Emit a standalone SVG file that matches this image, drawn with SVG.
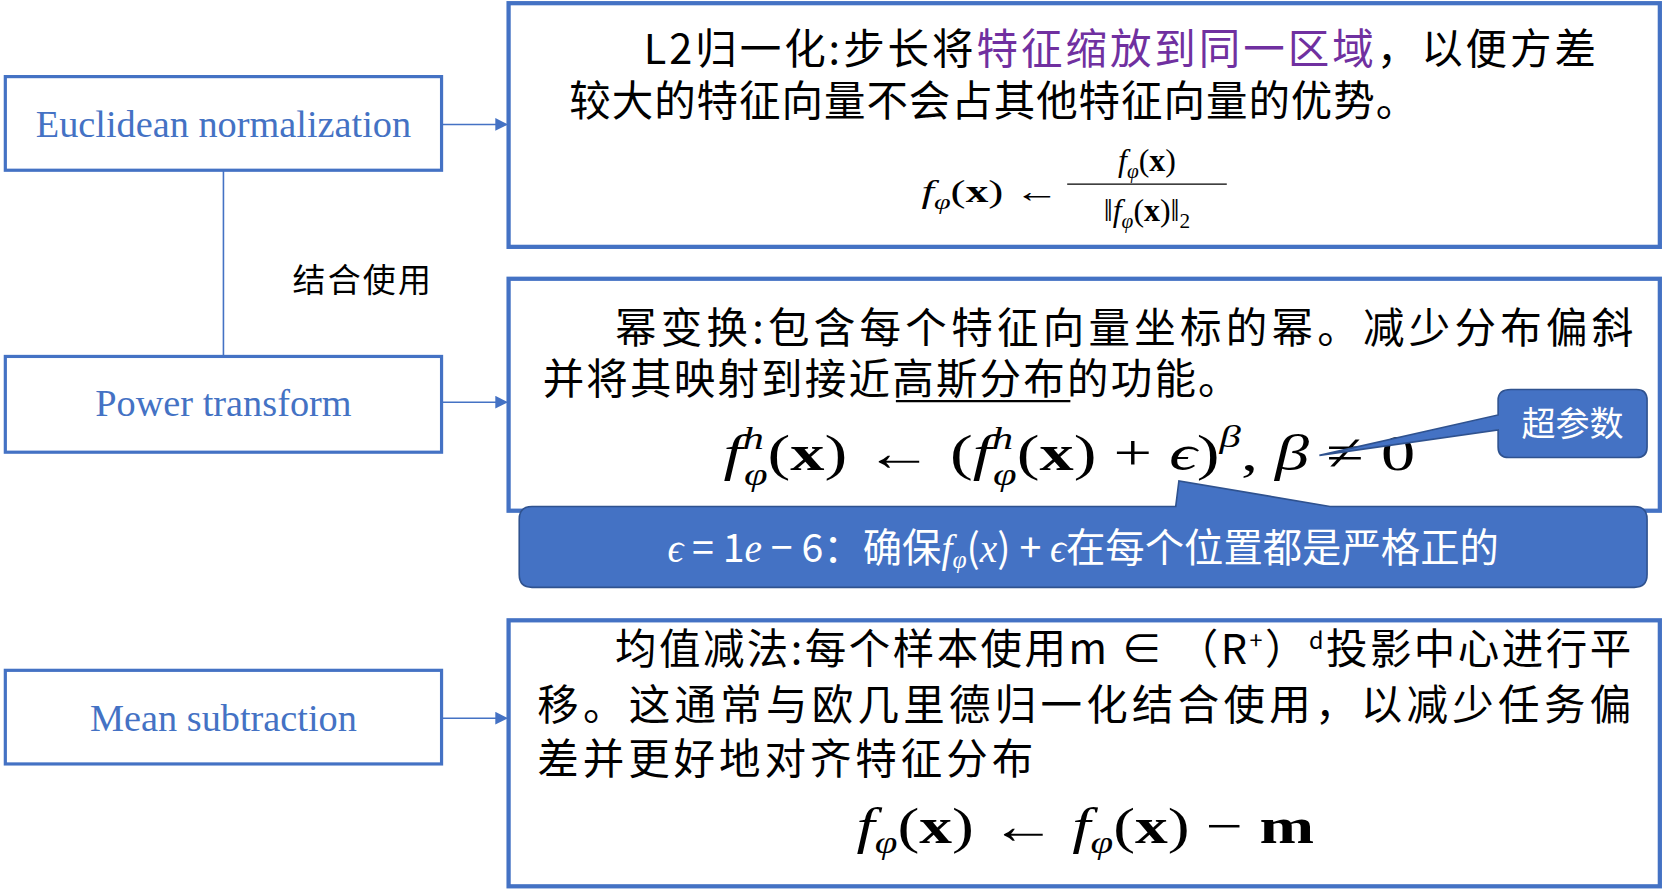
<svg xmlns="http://www.w3.org/2000/svg" width="1668" height="890" viewBox="0 0 1668 890">
<style>
.lb{fill:#fff;stroke:#4472C4;stroke-width:3}
.rb{fill:#fff;stroke:#4472C4;stroke-width:4}
.lt{font-family:"Liberation Serif",serif;font-size:36px;fill:#4472C4;text-anchor:middle}
.cn{font-family:"Noto Sans CJK SC",sans-serif;font-size:39px;fill:#000}
.m{font-family:"Liberation Serif",serif;fill:#000}
.call{fill:#4472C4;stroke:#2F528F;stroke-width:1.5}
.wt{font-family:"Noto Sans CJK SC",sans-serif;fill:#fff}
.con{stroke:#4472C4;stroke-width:1.5;fill:none}
</style>
<defs><marker id="ah" markerWidth="8" markerHeight="8" refX="7" refY="4" orient="auto"><path d="M0,0 L8,4 L0,8 z" fill="#4472C4"/></marker></defs>
<rect width="1668" height="890" fill="#fff"/>
<g transform="scale(1.064)">
<g id="connectors">
<line class="con" x1="210" y1="160" x2="210" y2="335"/>
<line class="con" x1="415" y1="117" x2="476" y2="117" marker-end="url(#ah)"/>
<line class="con" x1="415" y1="378" x2="476" y2="378" marker-end="url(#ah)"/>
<line class="con" x1="415" y1="675" x2="476" y2="675" marker-end="url(#ah)"/>
<text x="275" y="274" font-family="Noto Sans CJK SC,sans-serif" font-size="31" fill="#000" textLength="130">结合使用</text>
</g>
<g id="n1"><rect class="lb" x="5" y="72" width="410" height="88"/><text class="lt" x="210" y="129">Euclidean normalization</text></g>
<g id="n2"><rect class="lb" x="5" y="335" width="410" height="90"/><text class="lt" x="210" y="391">Power transform</text></g>
<g id="n3"><rect class="lb" x="5" y="630" width="410" height="88"/><text class="lt" x="210" y="687">Mean subtraction</text></g>
<g id="b1"><rect class="rb" x="478" y="3" width="1082" height="229"/>
<text class="cn" x="605" y="60" textLength="895">L2归一化:步长将<tspan fill="#7030A0">特征缩放到同一区域</tspan>，以便方差</text>
<text class="cn" x="535" y="109" textLength="797">较大的特征向量不会占其他特征向量的优势。</text>
<text class="m" font-size="30" x="866" y="190" font-style="italic" textLength="130" lengthAdjust="spacingAndGlyphs">f<tspan font-size="20" dy="6">φ</tspan><tspan font-style="normal" dy="-6">(</tspan><tspan font-weight="bold" font-style="normal">x</tspan><tspan font-style="normal">) ←</tspan></text>
<text class="m" font-size="30" x="1078" y="161" font-style="italic" text-anchor="middle">f<tspan font-size="20" dy="6">φ</tspan><tspan font-style="normal" dy="-6">(</tspan><tspan font-weight="bold" font-style="normal">x</tspan><tspan font-style="normal">)</tspan></text>
<line x1="1003" y1="173" x2="1153" y2="173" stroke="#000" stroke-width="1.2"/>
<text class="m" font-size="30" x="1078" y="208" font-style="italic" text-anchor="middle"><tspan font-style="normal">‖</tspan>f<tspan font-size="20" dy="6">φ</tspan><tspan font-style="normal" dy="-6">(</tspan><tspan font-weight="bold" font-style="normal">x</tspan><tspan font-style="normal">)‖</tspan><tspan font-style="normal" font-size="20" dy="6">2</tspan></text>
</g>
<g id="b2"><rect class="rb" x="478" y="262" width="1082" height="218"/>
<text class="cn" x="578" y="322" textLength="957">幂变换:包含每个特征向量坐标的幂。减少分布偏斜</text>
<text class="cn" x="510" y="370" textLength="655">并将其映射到接近高斯分布的功能。</text>
<line x1="842" y1="377" x2="1006" y2="377" stroke="#000" stroke-width="2"/>
<text class="m" font-size="48" x="680" y="442" font-style="italic" textLength="650" lengthAdjust="spacingAndGlyphs">f<tspan font-size="30" dy="-20">h</tspan><tspan font-size="30" dx="-14" dy="34">φ</tspan><tspan font-style="normal" dy="-14">(</tspan><tspan font-weight="bold" font-style="normal">x</tspan><tspan font-style="normal">) ← (</tspan>f<tspan font-size="30" dy="-20">h</tspan><tspan font-size="30" dx="-14" dy="34">φ</tspan><tspan font-style="normal" dy="-14">(</tspan><tspan font-weight="bold" font-style="normal">x</tspan><tspan font-style="normal">) + </tspan>ϵ<tspan font-style="normal">)</tspan><tspan font-size="30" dy="-22">β</tspan><tspan font-style="normal" dy="22">,   </tspan>β<tspan font-style="normal"> ≠ 0</tspan></text>
</g>
<g id="c1"><path class="call" d="M1420,366 H1538 Q1548,366 1548,376 V420 Q1548,430 1538,430 H1418 Q1408,430 1408,420 V404 L1240,428 L1408,390 V376 Q1408,366 1420,366 Z"/>
<text class="wt" font-size="32" x="1478" y="410" text-anchor="middle">超参数</text></g>
<g id="c2"><path class="call" d="M500,476 H1105 L1108,452 L1250,476 H1536 Q1548,476 1548,488 V540 Q1548,552 1536,552 H500 Q488,552 488,540 V488 Q488,476 500,476 Z"/>
<text class="wt" font-size="37" x="1018" y="528" text-anchor="middle"><tspan font-family="Liberation Serif,serif" font-style="italic">ϵ</tspan> = 1<tspan font-family="Liberation Serif,serif" font-style="italic">e</tspan> − 6：确保<tspan font-family="Liberation Serif,serif" font-style="italic">f<tspan font-size="24" dy="6">φ</tspan></tspan><tspan dy="-6">(</tspan><tspan font-family="Liberation Serif,serif" font-style="italic">x</tspan>) + <tspan font-family="Liberation Serif,serif" font-style="italic">ϵ</tspan>在每个位置都是严格正的</text></g>
<g id="b3"><rect class="rb" x="478" y="583" width="1082" height="250"/>
<text class="cn" x="578" y="624" textLength="955">均值减法:每个样本使用m ∈ （R<tspan font-size="22" dy="-14">+</tspan><tspan dy="14">）</tspan><tspan font-size="22" dy="-14">d</tspan><tspan dy="14">投影中心进行平</tspan></text>
<text class="cn" x="505" y="677" textLength="1028">移。这通常与欧几里德归一化结合使用，以减少任务偏</text>
<text class="cn" x="505" y="727" textLength="466">差并更好地对齐特征分布</text>
<text class="m" font-size="48" x="805" y="792" font-style="italic" textLength="430" lengthAdjust="spacingAndGlyphs">f<tspan font-size="30" dy="10">φ</tspan><tspan font-style="normal" dy="-10">(</tspan><tspan font-weight="bold" font-style="normal">x</tspan><tspan font-style="normal">) ← </tspan>f<tspan font-size="30" dy="10">φ</tspan><tspan font-style="normal" dy="-10">(</tspan><tspan font-weight="bold" font-style="normal">x</tspan><tspan font-style="normal">) − </tspan><tspan font-weight="bold" font-style="normal">m</tspan></text>
</g>
</g>
</svg>
